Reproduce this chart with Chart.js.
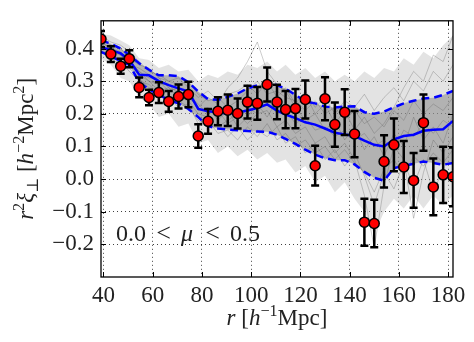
<!DOCTYPE html>
<html>
<head>
<meta charset="utf-8">
<script src="https://cdn.jsdelivr.net/npm/chart.js@4.4.0/dist/chart.umd.min.js"></script>
<style>
  body { margin: 0; background: #fff; }
  #chart1 { display: block; }
</style>
</head>
<body>
<canvas id="chart1" width="474" height="342"></canvas>
<script>
// separation bins r [h^-1 Mpc]
const rBins = [39, 43, 47, 50.5, 54.5, 58.5, 62.5, 66.5, 70.5, 74.5, 78.5, 82.5, 86.5, 90.5, 94.5,
    98.5, 102.5, 106.5, 110.5, 114, 118, 122, 126, 130, 134, 138, 142, 146, 150, 154,
    158, 162, 166, 170, 174, 178, 182];

// measured r^2 xi_perp and its error
const xiData = [0.429, 0.383, 0.346, 0.369, 0.281, 0.250, 0.265, 0.238, 0.253, 0.259, 0.132, 0.177,
    0.208, 0.211, 0.201, 0.236, 0.232, 0.290, 0.236, 0.213, 0.216, 0.244, 0.041, 0.246, 0.167,
    0.205, 0.138, -0.132, -0.136, 0.054, 0.105, 0.037, -0.004, 0.173, -0.024, 0.013, 0.007];
const xiErr = [0.025, 0.024, 0.023, 0.026, 0.030, 0.024, 0.032, 0.032, 0.037, 0.039, 0.036, 0.038,
    0.043, 0.048, 0.046, 0.050, 0.050, 0.052, 0.053, 0.057, 0.060, 0.058, 0.061, 0.066, 0.068,
    0.070, 0.071, 0.072, 0.073, 0.080, 0.081, 0.080, 0.084, 0.086, 0.087, 0.086, 0.090];

// mean of the mocks and +/- 1 sigma
const mockMean = [0.405, 0.395, 0.385, 0.365, 0.320, 0.318, 0.300, 0.288, 0.278, 0.268, 0.215, 0.208,
    0.205, 0.200, 0.204, 0.210, 0.218, 0.229, 0.210, 0.198, 0.187, 0.174, 0.167, 0.155, 0.142,
    0.137, 0.132, 0.118, 0.105, 0.100, 0.122, 0.132, 0.136, 0.148, 0.151, 0.153, 0.178];
const mockHi = [0.425, 0.415, 0.400, 0.380, 0.355, 0.335, 0.318, 0.318, 0.315, 0.297, 0.268, 0.245,
    0.243, 0.252, 0.262, 0.278, 0.287, 0.292, 0.288, 0.277, 0.258, 0.238, 0.232, 0.222, 0.219,
    0.222, 0.223, 0.205, 0.200, 0.207, 0.220, 0.232, 0.240, 0.247, 0.249, 0.258, 0.270];
const mockLo = [0.390, 0.376, 0.362, 0.350, 0.297, 0.275, 0.258, 0.242, 0.232, 0.215, 0.190, 0.162,
    0.155, 0.152, 0.150, 0.147, 0.146, 0.145, 0.136, 0.123, 0.108, 0.090, 0.075, 0.064, 0.058,
    0.058, 0.045, 0.022, 0.004, -0.005, 0.034, 0.040, 0.047, 0.054, 0.049, 0.044, 0.049];

// outer extent of the grey mock curves
const envHi = [0.445, 0.44, 0.425, 0.41, 0.37, 0.365, 0.34, 0.35, 0.33, 0.335, 0.30, 0.32, 0.31, 0.33,
    0.32, 0.35, 0.34, 0.36, 0.33, 0.35, 0.32, 0.34, 0.31, 0.33, 0.30, 0.32, 0.30, 0.33, 0.31,
    0.34, 0.33, 0.37, 0.35, 0.39, 0.37, 0.41, 0.44];
const envLo = [0.37, 0.35, 0.31, 0.30, 0.25, 0.23, 0.19, 0.20, 0.16, 0.17, 0.11, 0.12, 0.08, 0.10,
    0.07, 0.09, 0.06, 0.08, 0.05, 0.06, 0.02, 0.04, -0.01, 0.01, -0.04, -0.01, -0.06, -0.10, -0.17,
    -0.10, -0.06, -0.09, -0.05, -0.09, -0.05, -0.08, -0.05];

// a few single mocks
const mockA = [0.43, 0.41, 0.40, 0.37, 0.35, 0.34, 0.31, 0.30, 0.29, 0.30, 0.26, 0.24, 0.25, 0.22, 0.24,
    0.27, 0.30, 0.26, 0.27, 0.25, 0.24, 0.21, 0.24, 0.20, 0.22, 0.18, 0.21, 0.17, 0.19, 0.16,
    0.21, 0.18, 0.24, 0.20, 0.23, 0.21, 0.25];
const mockB = [0.40, 0.37, 0.36, 0.33, 0.30, 0.29, 0.26, 0.25, 0.22, 0.23, 0.17, 0.18, 0.14, 0.15, 0.12,
    0.16, 0.13, 0.17, 0.12, 0.14, 0.10, 0.12, 0.08, 0.10, 0.06, 0.09, 0.05, 0.02, -0.04, 0.03,
    0.06, 0.01, 0.07, 0.04, 0.08, 0.05, 0.09];
const mockC = [0.42, 0.40, 0.38, 0.36, 0.33, 0.31, 0.31, 0.28, 0.27, 0.25, 0.22, 0.25, 0.23, 0.28, 0.31,
    0.36, 0.42, 0.33, 0.29, 0.27, 0.22, 0.26, 0.20, 0.23, 0.17, 0.21, 0.15, 0.19, 0.14, 0.17,
    0.22, 0.28, 0.33, 0.30, 0.38, 0.36, 0.44];
const mockD = [0.41, 0.38, 0.37, 0.35, 0.32, 0.30, 0.27, 0.28, 0.25, 0.24, 0.20, 0.19, 0.16, 0.18, 0.20,
    0.17, 0.20, 0.21, 0.16, 0.18, 0.14, 0.16, 0.11, 0.13, 0.08, 0.11, 0.06, -0.05, -0.21, -0.02,
    0.10, 0.06, -0.12, 0.02, 0.12, 0.08, 0.13];
const mockE = [0.41, 0.39, 0.38, 0.35, 0.34, 0.32, 0.30, 0.27, 0.28, 0.26, 0.23, 0.20, 0.21, 0.17, 0.19,
    0.22, 0.20, 0.25, 0.20, 0.21, 0.17, 0.19, 0.15, 0.16, 0.13, 0.15, 0.12, 0.14, 0.10, 0.12,
    0.09, 0.15, 0.13, 0.17, 0.14, 0.18, 0.16];
const mockF = [0.42, 0.40, 0.39, 0.36, 0.33, 0.30, 0.29, 0.29, 0.26, 0.27, 0.21, 0.22, 0.18, 0.21, 0.16,
    0.19, 0.23, 0.19, 0.24, 0.20, 0.22, 0.18, 0.20, 0.15, 0.18, 0.12, 0.16, 0.09, 0.13, 0.07,
    0.14, 0.10, 0.19, 0.12, 0.16, 0.11, 0.20];
const mockG = [0.44, 0.42, 0.41, 0.39, 0.36, 0.33, 0.32, 0.30, 0.31, 0.28, 0.25, 0.27, 0.24, 0.26, 0.27,
    0.29, 0.26, 0.30, 0.25, 0.28, 0.23, 0.27, 0.22, 0.25, 0.20, 0.24, 0.22, 0.26, 0.21, 0.25,
    0.28, 0.24, 0.30, 0.27, 0.33, 0.30, 0.35];
const mockH = [0.39, 0.37, 0.35, 0.34, 0.31, 0.28, 0.27, 0.24, 0.24, 0.22, 0.18, 0.16, 0.17, 0.13, 0.16,
    0.12, 0.15, 0.13, 0.16, 0.11, 0.13, 0.08, 0.11, 0.06, 0.09, 0.04, 0.08, 0.01, -0.08, 0.02,
    -0.03, 0.05, -0.02, 0.06, -0.04, 0.03, 0.01];

const xTicks = [40, 60, 80, 100, 120, 140, 160, 180];
const yTicks = [-0.2, -0.1, 0.0, 0.1, 0.2, 0.3, 0.4];

const serif = '"Liberation Serif", "DejaVu Serif", serif';

function pts(ys) {
    return rBins.map((r, i) => ({ x: r, y: ys[i] }));
}

function mockLine(ys) {
    return {
        data: pts(ys), borderColor: 'rgba(90,90,90,0.3)', borderWidth: 1,
        pointRadius: 0, fill: false, order: 3, clip: 0
    };
}

// draws a list of text runs (italic / superscript / subscript) centred on x
function drawRuns(ctx, runs, x, y, size) {
    let total = 0;
    runs.forEach(run => {
        const s = run.sup || run.sub ? size * 0.7 : size;
        run.font = (run.it ? 'italic ' : '') + s + 'px ' + serif;
        ctx.font = run.font;
        run.w = ctx.measureText(run.t).width;
        total += run.w;
    });
    let cx = x - total / 2;
    runs.forEach(run => {
        ctx.font = run.font;
        let dy = 0;
        if (run.sup) dy = -size * 0.38;
        if (run.sub) dy = size * 0.22;
        ctx.fillText(run.t, cx, y + dy);
        cx += run.w;
    });
}

const errorBars = {
    id: 'errorBars',
    beforeDatasetDraw(chart, args) {
        if (args.index !== 0) return;
        const { ctx, chartArea, scales } = chart;
        ctx.save();
        ctx.beginPath();
        ctx.rect(chartArea.left, chartArea.top, chartArea.width, chartArea.height);
        ctx.clip();
        ctx.strokeStyle = '#000';
        ctx.lineWidth = 2.5;
        rBins.forEach((r, i) => {
            const x = scales.x.getPixelForValue(r);
            const y1 = scales.y.getPixelForValue(xiData[i] + xiErr[i]);
            const y2 = scales.y.getPixelForValue(xiData[i] - xiErr[i]);
            ctx.beginPath();
            ctx.moveTo(x, y1); ctx.lineTo(x, y2);
            ctx.moveTo(x - 4, y1); ctx.lineTo(x + 4, y1);
            ctx.moveTo(x - 4, y2); ctx.lineTo(x + 4, y2);
            ctx.stroke();
        });
        ctx.restore();
    }
};

const frame = {
    id: 'frame',
    afterDraw(chart) {
        const { ctx, chartArea: a, scales } = chart;
        ctx.save();
        ctx.strokeStyle = '#000';
        ctx.lineWidth = 1;
        xTicks.forEach(v => {
            const x = Math.round(scales.x.getPixelForValue(v)) + 0.5;
            ctx.beginPath();
            ctx.moveTo(x, a.bottom); ctx.lineTo(x, a.bottom - 5);
            ctx.moveTo(x, a.top); ctx.lineTo(x, a.top + 5);
            ctx.stroke();
        });
        yTicks.forEach(v => {
            const y = Math.round(scales.y.getPixelForValue(v)) + 0.5;
            ctx.beginPath();
            ctx.moveTo(a.left, y); ctx.lineTo(a.left + 5, y);
            ctx.moveTo(a.right, y); ctx.lineTo(a.right - 5, y);
            ctx.stroke();
        });
        ctx.lineWidth = 1.3;
        ctx.strokeRect(a.left, a.top, a.right - a.left, a.bottom - a.top);

        ctx.fillStyle = '#222';
        ctx.textBaseline = 'alphabetic';
        ctx.textAlign = 'left';

        // x title
        drawRuns(ctx, [
            { t: 'r', it: true }, { t: ' [' }, { t: 'h', it: true }, { t: '\u22121', sup: true },
            { t: 'Mpc]' }
        ], (a.left + a.right) / 2, 325, 23);

        // y title
        ctx.save();
        ctx.translate(33, (a.top + a.bottom) / 2);
        ctx.rotate(-Math.PI / 2);
        drawRuns(ctx, [
            { t: 'r', it: true }, { t: '2', sup: true }, { t: '\u03be', it: true }, { t: '\u22a5', sub: true },
            { t: ' [' }, { t: 'h', it: true }, { t: '\u22122', sup: true }, { t: 'Mpc' },
            { t: '2', sup: true }, { t: ']' }
        ], 0, 0, 23);
        ctx.restore();

        // mu range label
        const base = 241;
        ctx.font = '24px ' + serif;
        ctx.fillText('0.0', a.left + 15, base);
        ctx.textAlign = 'center';
        ctx.font = '26px ' + serif;
        ctx.fillText('<', a.left + 62.5, base);
        ctx.fillText('<', a.left + 111.5, base);
        ctx.font = 'italic 24px ' + serif;
        ctx.fillText('\u03bc', a.left + 86, base);
        ctx.textAlign = 'left';
        ctx.font = '24px ' + serif;
        ctx.fillText('0.5', a.left + 129, base);
        ctx.restore();
    }
};

function loadChart() {
    const ctx = document.getElementById('chart1').getContext('2d');

    const datasets = [
        {
            data: pts(xiData), showLine: false, pointRadius: 5, pointHoverRadius: 5,
            pointBackgroundColor: '#ff0000', pointBorderColor: '#000', pointBorderWidth: 1.5,
            order: 0, clip: 0
        },
        {
            data: pts(mockMean), borderColor: '#0000ff', borderWidth: 2.5,
            pointRadius: 0, fill: false, order: 1, clip: 0
        },
        {
            data: pts(mockHi), borderColor: '#0000ff', borderWidth: 2.5, borderDash: [8, 5],
            pointRadius: 0, fill: false, order: 2, clip: 0
        },
        {
            data: pts(mockLo), borderColor: '#0000ff', borderWidth: 2.5, borderDash: [8, 5],
            pointRadius: 0, fill: false, order: 2, clip: 0
        },
        mockLine(mockA),
        mockLine(mockB),
        mockLine(mockC),
        mockLine(mockD),
        mockLine(mockE),
        mockLine(mockF),
        mockLine(mockG),
        mockLine(mockH),
        {
            data: pts(mockHi), borderWidth: 0, pointRadius: 0,
            fill: '+1', backgroundColor: 'rgba(130,130,130,0.5)', order: 4, clip: 0
        },
        {
            data: pts(mockLo), borderWidth: 0, pointRadius: 0, fill: false, order: 4, clip: 0
        },
        {
            data: pts(envHi), borderWidth: 0, pointRadius: 0,
            fill: '+1', backgroundColor: 'rgba(185,185,185,0.4)', order: 5, clip: 0
        },
        {
            data: pts(envLo), borderWidth: 0, pointRadius: 0, fill: false, order: 5, clip: 0
        }
    ];

    const config = {
        type: 'line',
        data: { datasets: datasets },
        plugins: [errorBars, frame],
        options: {
            responsive: false,
            animation: false,
            layout: { padding: { top: 9, right: 21, left: 0, bottom: 0 } },
            plugins: { legend: { display: false }, tooltip: { enabled: false } },
            elements: { line: { tension: 0 } },
            scales: {
                x: {
                    type: 'linear', min: 39, max: 182,
                    afterBuildTicks: scale => { scale.ticks = xTicks.map(v => ({ value: v })); },
                    afterFit: scale => { scale.height = 65; },
                    grid: { color: 'rgba(0,0,0,0.75)', lineWidth: 1, drawTicks: false },
                    border: { display: false, dash: [1, 3] },
                    ticks: {
                        padding: 5, color: '#222', maxRotation: 0,
                        font: { family: serif, size: 23 },
                        callback: v => String(v)
                    }
                },
                y: {
                    type: 'linear', min: -0.3, max: 0.485,
                    afterBuildTicks: scale => { scale.ticks = yTicks.map(v => ({ value: v })); },
                    afterFit: scale => { scale.width = 101; },
                    grid: { color: 'rgba(0,0,0,0.75)', lineWidth: 1, drawTicks: false },
                    border: { display: false, dash: [1, 3] },
                    ticks: {
                        padding: 7, color: '#222',
                        font: { family: serif, size: 23 },
                        callback: v => v.toFixed(1).replace('-', '\u2212')
                    }
                }
            }
        }
    };

    new Chart(ctx, config);
}

loadChart();
</script>
</body>
</html>
